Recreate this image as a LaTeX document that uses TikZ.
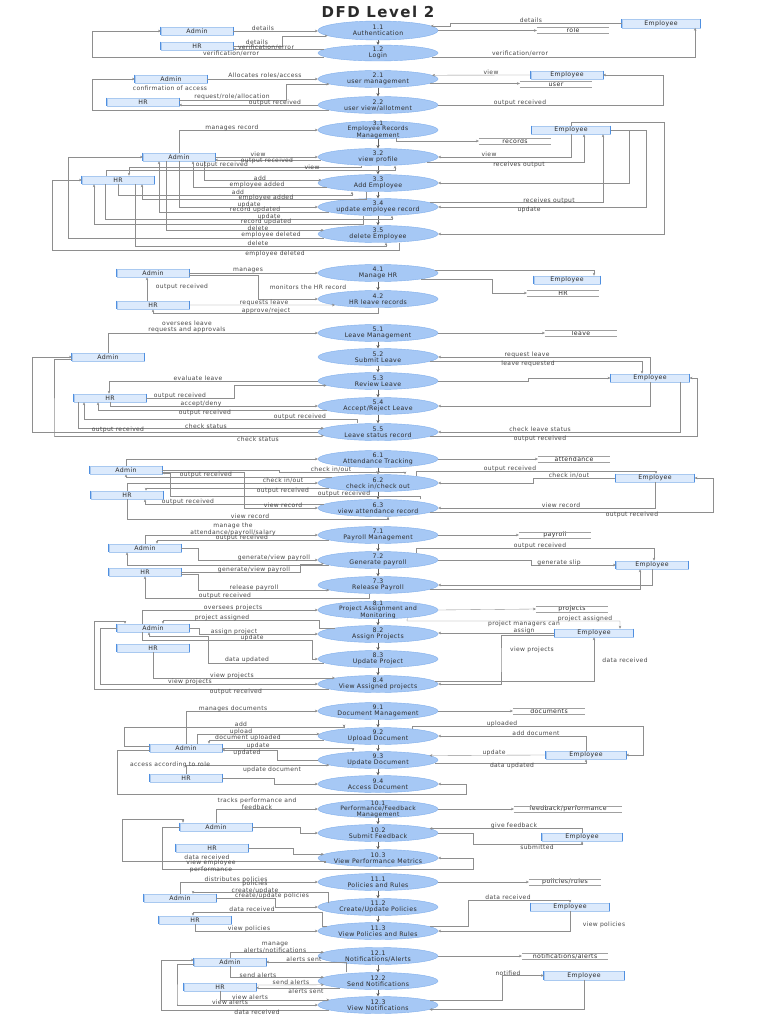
\documentclass[tikz,border=0pt]{standalone}
\usepackage{fontspec}
\setmainfont{DejaVu Sans}[LetterSpace=6.0]
\newfontfamily\titlefont{DejaVu Sans}[LetterSpace=10.0]
\usepackage{tikz}
\usetikzlibrary{arrows.meta,shapes.geometric}
\definecolor{procfill}{HTML}{A6C8F5}
\definecolor{procedge}{HTML}{7FAEEB}
\definecolor{entfill}{HTML}{DCEAFC}
\definecolor{entedge}{HTML}{A9C9F0}
\definecolor{entside}{HTML}{4F8FE0}
\definecolor{flowline}{HTML}{8E8E8E}
\definecolor{flowdark}{HTML}{5E5E5E}
\definecolor{storeline}{HTML}{A0A0A0}
\definecolor{figink}{HTML}{2B2B2B}
\definecolor{inkmuted}{HTML}{474747}
\newcommand{\procfont}{\fontsize{6.2}{6}\selectfont}
\newcommand{\procsmall}{\fontsize{6}{4.9}\selectfont}
\newcommand{\lblfont}{\fontsize{6}{5.4}\selectfont}

\begin{document}
\begin{tikzpicture}[
    x=1pt, y=-1pt,
    proc/.style={ellipse, fill=procfill, draw=procedge, line width=0.4pt, minimum width=120pt, minimum height=17pt, inner xsep=-6pt, inner ysep=-1pt, align=center, text=figink, font=\procfont},
    entbar/.style={draw=entside, line width=0.9pt},
    ent/.style={rectangle, fill=entfill, draw=entedge, line width=0.3pt, minimum width=72pt, minimum height=8.5pt, inner sep=0pt, text=figink, font=\procfont,
      append after command={(\tikzlastnode.north west) edge[entbar] (\tikzlastnode.south west) (\tikzlastnode.north east) edge[entbar] (\tikzlastnode.south east)}},
    storeedge/.style={draw=storeline, line width=0.5pt},
    store/.style={minimum width=72pt, minimum height=6pt, inner sep=0pt, text=figink, font=\procfont,
      append after command={(\tikzlastnode.north west) edge[storeedge] (\tikzlastnode.north east) (\tikzlastnode.south west) edge[storeedge] (\tikzlastnode.south east)}},
    flow/.style={-{Stealth[length=2.8pt,width=2.6pt]}, draw=flowline, line width=0.35pt},
    seq/.style={-{Stealth[length=3.2pt,width=3.2pt]}, draw=flowdark, line width=0.8pt},
    lbl/.style={text=inkmuted, font=\lblfont, inner sep=0.4pt, align=center},
  ]
  \fill[white] (0,0) rectangle (768,1024);
  \useasboundingbox (0,0) rectangle (768,1024);

  \node[text=figink, font=\titlefont\bfseries\fontsize{15}{15}\selectfont] (title) at (378,12) {DFD Level 2};

  \node[proc, minimum height=19pt] (auth) at (378,30.5) {1.1\\Authentication};
  \node[proc, minimum height=16pt] (login) at (378,53) {1.2\\Login};
  \node[ent] (admA) at (197,31) {Admin};
  \node[ent] (hrA) at (197,46) {HR};
  \node[ent, minimum width=78pt] (empA) at (661,23.5) {Employee};
  \node[store] (roleS) at (573,30.5) {role};
  \draw[seq] (auth) -- (login);
  \draw[flow] (admA) -- (admA -| auth.west);
  \draw[flow] (hrA.east) -- (282,46) |- (auth.186);
  \draw[flow] (login.176) -- (login.176 -| hrA.east);
  \draw[flow] (login.184) -| (92,31) -- (admA.west);
  \draw[flow] (empA.west) -- (450,23.5) |- (auth.5);
  \draw[flow] (auth.east) -- (roleS.west);
  \draw[flow] (login.356) -| ([xshift=-5pt]empA.south east);
  \node[lbl] (l1a) at (263,28) {details};
  \node[lbl] (l1b) at (257,42) {details};
  \node[lbl] (l1c) at (266,47.5) {verification/error};
  \node[lbl] (l1d) at (231,54) {verification/error};
  \node[lbl] (l1e) at (531,20.5) {details};
  \node[lbl] (l1f) at (520,54) {verification/error};

  \node[proc] (usrM) at (378,79) {2.1\\user management};
  \node[proc] (usrV) at (378,105) {2.2\\user view/allotment};
  \node[ent] (admB) at (171,79) {Admin};
  \node[ent] (hrB) at (143,102) {HR};
  \node[ent] (empB) at (567,75) {Employee};
  \node[store] (userS) at (556,84.5) {user};
  \draw[seq] (usrM) -- (usrV);
  \draw[flow] (admB) -- (admB -| usrM.west);
  \draw[flow] (usrV.186) -| (92,79) -- (admB.west);
  \draw[flow] ([yshift=2pt]hrB.east) -- (286,100) |- (usrM.186);
  \draw[flow] (usrV.west) -- (usrV.west -| hrB.east);
  \draw[flow] (empB.west) -- (usrM.4);
  \draw[flow] (usrM.355) -- (usrM.355 -| userS.west);
  \draw[flow] (usrV.east) -- (663,105) |- (empB.east);
  \node[lbl] (l2a) at (265,76) {Allocates roles/access};
  \node[lbl] (l2b) at (170,88) {confirmation of access};
  \node[lbl] (l2c) at (232,97) {request/role/allocation};
  \node[lbl] (l2d) at (275,102.5) {output received};
  \node[lbl] (l2e) at (491,72.5) {view};
  \node[lbl] (l2f) at (520,102.5) {output received};

  \node[proc, font=\procsmall, inner ysep=-2.5pt] (empR) at (378,130) {3.1\\Employee Records\\Management};
  \node[proc] (viewP) at (378,157) {3.2\\view profile};
  \node[proc] (addE) at (378,183) {3.3\\Add Employee};
  \node[proc] (updE) at (378,207) {3.4\\update employee record};
  \node[proc] (delE) at (378,234) {3.5\\delete Employee};
  \node[ent] (admC) at (179,157) {Admin};
  \node[ent] (hrC) at (118,180) {HR};
  \node[ent, minimum width=79pt] (empC) at (571,130) {Employee};
  \node[store] (recS) at (515,141) {records};
  \draw[seq] (empR) -- (viewP);
  \draw[seq] (viewP) -- (addE);
  \draw[seq] (addE) -- (updE);
  \draw[seq] (updE) -- (delE);
  \draw[flow] (admC.north) |- (empR.west);
  \draw[flow] (admC.east) -- (admC.east -| viewP.west);
  \draw[flow] (viewP.183) -- (viewP.183 -| admC.east);
  \draw[flow] (361,0 |- viewP.south) |- (129,167) -- ([xshift=11pt]hrC.north);
  \draw[flow] ([xshift=-12pt]hrC.north) |- (395,170) -- (395,0 |- viewP.south);
  \draw[flow] ([xshift=25pt]admC.south) |- (addE.177);
  \draw[flow] (addE.185) -| ([xshift=14pt]admC.south);
  \draw[flow] (hrC.south) |- (352,195) -- (352,0 |- addE.south);
  \draw[flow] (366,0 |- addE.south) |- (142,199) -- ([xshift=24pt]hrC.south);
  \draw[flow] (admC.south) |- (updE.west);
  \draw[flow] (updE.186) -| ([xshift=-20pt]admC.south);
  \draw[flow] ([xshift=-13pt]hrC.south) |- (392,219) -- (392,0 |- updE.south);
  \draw[flow] (363,0 |- updE.south) |- (94,224) -- ([xshift=-24pt]hrC.south);
  \draw[flow] ([xshift=-13pt]admC.south) |- (delE.176);
  \draw[flow] (delE.184) -| (68,157) -- (admC.west);
  \draw[flow] ([xshift=17pt]hrC.south) |- (386,246) -- (386,0 |- delE.south);
  \draw[flow] (399,0 |- delE.south) |- (52,250) |- (hrC.west);
  \draw[flow] (empR.335) |- (recS.west);
  \draw[flow] (empC.south) |- (viewP.east);
  \draw[flow] (viewP.354) -| ([xshift=13pt]empC.south);
  \draw[flow] (empC.east) -- (629,130) |- (addE.east);
  \draw[flow] (updE.5) -| ([xshift=32pt]empC.south);
  \draw[flow] (empC.east) -- (646,130) |- (updE.east);
  \draw[flow] (empC.north) |- (664,122) |- (delE.east);
  \node[lbl] (l3a) at (232,127.5) {manages record};
  \node[lbl] (l3b) at (258,154.5) {view};
  \node[lbl] (l3c) at (267,161) {output received};
  \node[lbl] (l3d) at (222,165) {output received};
  \node[lbl] (l3e) at (312,167.5) {view};
  \node[lbl] (l3f) at (260,178) {add};
  \node[lbl] (l3g) at (257,185) {employee added};
  \node[lbl] (l3h) at (238,192.5) {add};
  \node[lbl] (l3i) at (266,197.5) {employee added};
  \node[lbl] (l3j) at (249,204.5) {update};
  \node[lbl] (l3k) at (255,209.5) {record updated};
  \node[lbl] (l3l) at (269,216.5) {update};
  \node[lbl] (l3m) at (266,222) {record updated};
  \node[lbl] (l3n) at (258,228.5) {delete};
  \node[lbl] (l3o) at (271,235) {employee deleted};
  \node[lbl] (l3p) at (258,243) {delete};
  \node[lbl] (l3q) at (275,253.5) {employee deleted};
  \node[lbl] (l3r) at (489,154.5) {view};
  \node[lbl] (l3s) at (519,164.5) {receives output};
  \node[lbl] (l3t) at (549,200.5) {receives output};
  \node[lbl] (l3u) at (529,209.5) {update};

  \node[proc] (mgHR) at (378,273) {4.1\\Manage HR};
  \node[proc] (hrLv) at (378,299) {4.2\\HR leave records};
  \node[ent] (admD) at (153,273) {Admin};
  \node[ent] (hrD) at (153,305) {HR};
  \node[ent, minimum width=66pt] (empD) at (567,280) {Employee};
  \node[store] (hrS) at (563,293) {HR};
  \draw[seq] (mgHR) -- (hrLv);
  \draw[flow] (admD) -- (admD -| mgHR.west);
  \draw[flow] ([yshift=-2pt]admD.east) -- (258,275) |- (hrLv.west);
  \draw[flow] ([xshift=-6pt]hrD.north) -- ([xshift=-6pt]admD.south);
  \draw[flow] (hrD.east) -- (hrLv.188);
  \draw[flow] (hrLv.south) |- (153,313) -- (hrD.south);
  \draw[flow] (mgHR.3) -| ([xshift=27pt]empD.north);
  \draw[flow] (mgHR.352) -| (492,293) -- (hrS.west);
  \node[lbl] (l4a) at (248,270.5) {manages};
  \node[lbl] (l4b) at (182,287) {output received};
  \node[lbl] (l4c) at (308,287) {monitors the HR record};
  \node[lbl] (l4d) at (264,302.5) {requests leave};
  \node[lbl] (l4e) at (266,310.5) {approve/reject};

  \node[proc] (lvM) at (378,333) {5.1\\Leave Management};
  \node[proc] (subL) at (378,357) {5.2\\Submit Leave};
  \node[proc] (revL) at (378,381) {5.3\\Review Leave};
  \node[proc] (accL) at (378,406) {5.4\\Accept/Reject Leave};
  \node[proc] (stL) at (378,432) {5.5\\Leave status record};
  \node[ent] (admE) at (108,357) {Admin};
  \node[ent] (hrE) at (110,398) {HR};
  \node[ent, minimum width=79pt] (empE) at (650,378) {Employee};
  \node[store] (leaveS) at (581,333) {leave};
  \draw[seq] (lvM) -- (subL);
  \draw[seq] (subL) -- (revL);
  \draw[seq] (revL) -- (accL);
  \draw[seq] (accL) -- (stL);
  \draw[flow] (admE.north) |- (lvM.west);
  \draw[flow] (lvM.east) -- (leaveS.west);
  \draw[flow] (empE.north) |- (subL.east);
  \draw[flow] (subL.355) -| ([xshift=-8pt]empE.north);
  \draw[flow] (revL.west) -| ([xshift=-1pt]hrE.north);
  \draw[flow] (hrE.east) -- (234,398) |- (revL.185);
  \draw[flow] (revL.east) -- (528,381) |- (empE.west);
  \draw[flow] (hrE.south) |- (accL.west);
  \draw[flow] (accL.185) -| ([xshift=-12pt]hrE.south);
  \draw[flow] (357,0 |- stL.north) |- (84,419) -- ([xshift=-26pt]hrE.south);
  \draw[flow] ([xshift=-32pt]hrE.south) |- (stL.176);
  \draw[flow] (stL.west) -| (32,357) -- (admE.west);
  \draw[flow] ([yshift=-2pt]admE.west) -| (54,436) |- (stL.184);
  \draw[flow] ([xshift=30pt]empE.south) |- (stL.east);
  \draw[flow] (stL.355) -| (697,378) -- (empE.east);
  \draw[flow] (empE.south) |- (accL.east);
  \node[lbl] (l5a) at (187,327) {oversees leave\\requests and approvals};
  \node[lbl] (l5b) at (527,354.5) {request leave};
  \node[lbl] (l5c) at (528,363.5) {leave requested};
  \node[lbl] (l5d) at (198,378.5) {evaluate leave};
  \node[lbl] (l5e) at (180,395.5) {output received};
  \node[lbl] (l5f) at (201,403.5) {accept/deny};
  \node[lbl] (l5g) at (205,413) {output received};
  \node[lbl] (l5h) at (300,416.5) {output received};
  \node[lbl] (l5i) at (206,426) {check status};
  \node[lbl] (l5j) at (118,429.5) {output received};
  \node[lbl] (l5k) at (258,439.5) {check status};
  \node[lbl] (l5l) at (540,429.5) {check leave status};
  \node[lbl] (l5m) at (540,439) {output received};

  \node[proc] (attT) at (378,459) {6.1\\Attendance Tracking};
  \node[proc] (chkIO) at (378,483) {6.2\\check in/check out};
  \node[proc] (viewA) at (378,508) {6.3\\view attendance record};
  \node[ent] (admF) at (126,470) {Admin};
  \node[ent] (hrF) at (127,495) {HR};
  \node[ent, minimum width=79pt] (empF) at (655,478) {Employee};
  \node[store] (attS) at (574,459) {attendance};
  \draw[seq] (attT) -- (chkIO);
  \draw[seq] (chkIO) -- (viewA);
  \draw[flow] (admF.north) |- (attT.west);
  \draw[flow] (attT.east) -- (attS.west);
  \draw[flow] (admF.east) -- (279,470) |- (405,472) -- (405,0 |- chkIO.north);
  \draw[flow] (chkIO.173) -| (admF.south);
  \draw[flow] (hrF.north) |- (chkIO.west);
  \draw[flow] (chkIO.186) -| ([xshift=19pt]hrF.north);
  \draw[flow] (420,0 |- viewA.north) |- (170,496) |- ([yshift=-3pt]admF.east);
  \draw[flow] ([yshift=-2pt]admF.east) -- (244,472) |- (viewA.west);
  \draw[flow] (viewA.176) -| ([xshift=18pt]hrF.south);
  \draw[flow] (hrF.south) |- (388,519) -- (388,0 |- viewA.south);
  \draw[flow] (chkIO.10) |- (656,471) -- ([xshift=1pt]empF.north);
  \draw[flow] (empF.west) -- (533,478) |- (chkIO.east);
  \draw[flow] (viewA.355) -| (713,478) -- (empF.east);
  \draw[flow] (empF.south) |- (viewA.east);
  \node[lbl] (l6a) at (331,469.5) {check in/out};
  \node[lbl] (l6b) at (206,475) {output received};
  \node[lbl] (l6c) at (283,480.5) {check in/out};
  \node[lbl] (l6d) at (283,490.5) {output received};
  \node[lbl] (l6e) at (344,493.5) {output received};
  \node[lbl] (l6f) at (283,505.5) {view record};
  \node[lbl] (l6g) at (188,502) {output received};
  \node[lbl] (l6h) at (250,516.5) {view record};
  \node[lbl] (l6i) at (510,468.5) {output received};
  \node[lbl] (l6j) at (569,475.5) {check in/out};
  \node[lbl] (l6k) at (561,505.5) {view record};
  \node[lbl] (l6l) at (632,514.5) {output received};

  \node[proc] (payM) at (378,535) {7.1\\Payroll Management};
  \node[proc] (genP) at (378,560) {7.2\\Generate payroll};
  \node[proc] (relP) at (378,585) {7.3\\Release Payroll};
  \node[ent] (admG) at (145,548) {Admin};
  \node[ent] (hrG) at (145,572) {HR};
  \node[ent] (empG) at (652,565) {Employee};
  \node[store] (payS) at (555,535) {payroll};
  \draw[seq] (payM) -- (genP);
  \draw[seq] (genP) -- (relP);
  \draw[flow] (admG.north) |- (payM.west);
  \draw[flow] (payM.186) -| ([xshift=12pt]admG.north);
  \draw[flow] (admG.east) -- (198,548) |- (genP.west);
  \draw[flow] (genP.186) -| ([xshift=-18pt]admG.south);
  \draw[flow] (hrG.east) -- (300,572) |- (genP.184);
  \draw[flow] ([yshift=-2pt]hrG.east) -- (198,574) |- (relP.186);
  \draw[flow] (369,0 |- relP.south) |- (145,598) -- (hrG.south);
  \draw[flow] (payM.east) -- (payS.west);
  \draw[flow] (genP.east) -- (531,560) |- (empG.west);
  \draw[flow] (genP.10) |- (654,548) -- ([xshift=2pt]empG.north);
  \draw[flow] (empG.south) |- (relP.east);
  \draw[flow] (relP.355) -| ([xshift=-12pt]empG.south);
  \node[lbl] (l7a) at (233,529) {manage the\\attendance/payroll/salary};
  \node[lbl] (l7b) at (242,538) {output received};
  \node[lbl] (l7c) at (274,557.5) {generate/view payroll};
  \node[lbl] (l7d) at (254,569.5) {generate/view payroll};
  \node[lbl] (l7e) at (254,587.5) {release payroll};
  \node[lbl] (l7f) at (225,595.5) {output received};
  \node[lbl] (l7g) at (559,562.5) {generate slip};
  \node[lbl] (l7h) at (540,545.5) {output received};

  \node[proc, font=\procsmall, inner ysep=-2.5pt] (prjM) at (378,610) {8.1\\Project Assignment and\\Monitoring};
  \node[proc] (asgP) at (378,634) {8.2\\Assign Projects};
  \node[proc] (updP) at (378,659) {8.3\\Update Project};
  \node[proc] (viewPr) at (378,684) {8.4\\View Assigned projects};
  \node[ent] (admH) at (153,628) {Admin};
  \node[ent] (hrH) at (153,648) {HR};
  \node[ent, minimum width=79pt] (empH) at (594,633) {Employee};
  \node[store] (prjS) at (572,609) {projects};
  \draw[seq] (prjM) -- (asgP);
  \draw[seq] (asgP) -- (updP);
  \draw[seq] (updP) -- (viewPr);
  \draw[flow] ([xshift=-11pt]admH.north) |- (prjM.west);
  \draw[flow] (asgP.172) -| (319,620) -| ([xshift=10pt]admH.north);
  \draw[flow] (admH.east) -- (199,628) |- (asgP.west);
  \draw[flow] ([xshift=-11pt]admH.south) |- (312,640) |- (updP.west);
  \draw[flow] (updP.184) -| (208,636) -| ([xshift=-4pt]admH.south);
  \draw[flow] (hrH.south) |- (viewPr.172);
  \draw[flow] (admH.west) -| (100,684) -- (viewPr.west);
  \draw[flow] (viewPr.186) -| (94,621) -| ([xshift=-28pt]admH.north);
  \draw[flow] (prjM.east) -- (prjS.west);
  \draw[flow] (prjM.345) -- (407,621) -| ([xshift=26pt]empH.north);
  \draw[flow] (empH.west) -- (empH.west -| asgP.east);
  \draw[flow] ([yshift=-2pt]empH.west) -| (501,660) |- (viewPr.east);
  \draw[flow] (viewPr.3) -| (empH.south);
  \node[lbl] (l8a) at (233,607.5) {oversees projects};
  \node[lbl] (l8b) at (222,617.5) {project assigned};
  \node[lbl] (l8c) at (234,631.5) {assign project};
  \node[lbl] (l8d) at (252,637.5) {update};
  \node[lbl] (l8e) at (247,660) {data updated};
  \node[lbl] (l8f) at (232,675.5) {view projects};
  \node[lbl] (l8g) at (190,681.5) {view projects};
  \node[lbl] (l8h) at (236,691.5) {output received};
  \node[lbl] (l8i) at (585,618.5) {project assigned};
  \node[lbl] (l8j) at (524,627) {project managers can\\assign};
  \node[lbl] (l8k) at (532,650) {view projects};
  \node[lbl] (l8l) at (625,660) {data received};

  \node[proc] (docM) at (378,711) {9.1\\Document Management};
  \node[proc] (upD) at (378,736) {9.2\\Upload Document};
  \node[proc] (udD) at (378,760) {9.3\\Update Document};
  \node[proc] (acD) at (378,784) {9.4\\Access Document};
  \node[ent] (admI) at (186,748) {Admin};
  \node[ent] (hrI) at (186,778) {HR};
  \node[ent, minimum width=80pt] (empI) at (586,755) {Employee};
  \node[store] (docS) at (549,711) {documents};
  \draw[seq] (docM) -- (upD);
  \draw[seq] (upD) -- (udD);
  \draw[seq] (udD) -- (acD);
  \draw[flow] (admI.north) |- (docM.west);
  \draw[flow] ([yshift=2pt]admI.west) -- (124,746) |- (344,727) -- (344,0 |- upD.north);
  \draw[flow] ([xshift=11pt]admI.north) |- (upD.178);
  \draw[flow] (upD.184) -| ([xshift=23pt]admI.north);
  \draw[flow] (admI.east) -- (353,748) -- (353,0 |- udD.north);
  \draw[flow] (udD.west) -- (277,760) |- ([yshift=-2pt]admI.east);
  \draw[flow] ([yshift=-2pt]admI.west) -| (117,794) -- (466,794) |- (acD.east);
  \draw[flow] (hrI.north) |- (udD.186);
  \draw[flow] (hrI.east) -- (274,778) |- (acD.west);
  \draw[flow] (docM.east) -- (docS.west);
  \draw[flow] (upD.12) |- (643,726) |- (empI.east);
  \draw[flow] (empI.north) |- (upD.east);
  \draw[flow] (empI.west) -- (udD.5);
  \draw[flow] (udD.357) -| (empI.south);
  \node[lbl] (l9a) at (233,708.5) {manages documents};
  \node[lbl] (l9b) at (241,724.5) {add};
  \node[lbl] (l9c) at (241,732) {upload};
  \node[lbl] (l9d) at (248,737.5) {document uploaded};
  \node[lbl] (l9e) at (258,745.5) {update};
  \node[lbl] (l9f) at (247,753) {updated};
  \node[lbl] (l9g) at (170,764.5) {access according to role};
  \node[lbl] (l9h) at (272,770) {update document};
  \node[lbl] (l9i) at (502,723.5) {uploaded};
  \node[lbl] (l9j) at (536,733.5) {add document};
  \node[lbl] (l9k) at (494,752.5) {update};
  \node[lbl] (l9l) at (512,765.5) {data updated};

  \node[proc, font=\procsmall, inner ysep=-2.5pt] (perfM) at (378,809) {10.1\\Performance/Feedback\\Management};
  \node[proc] (subF) at (378,833) {10.2\\Submit Feedback};
  \node[proc] (perfV) at (378,858) {10.3\\View Performance Metrics};
  \node[ent] (admJ) at (216,827) {Admin};
  \node[ent] (hrJ) at (212,848) {HR};
  \node[ent, minimum width=80pt] (empJ) at (582,837) {Employee};
  \node[store, minimum width=108pt] (fbS) at (568,809) {feedback/performance};
  \draw[seq] (perfM) -- (subF);
  \draw[seq] (subF) -- (perfV);
  \draw[flow] (admJ.north) |- (perfM.west);
  \draw[flow] (admJ.east) -- (300,827) |- (subF.west);
  \draw[flow] (admJ.west) -| (162,869) -| (473,858) -- (perfV.east);
  \draw[flow] (perfV.184) -| (325,861) -- (122,861) |- (183,819) -- ([xshift=-33pt]admJ.north);
  \draw[flow] (hrJ.east) -- (293,848) |- (perfV.176);
  \draw[flow] (perfM.east) -- (fbS.west);
  \draw[flow] (empJ.north) |- (subF.5);
  \draw[flow] (subF.east) -- (473,833) |- (582,844) -- (empJ.south);
  \node[lbl] (l10a) at (257,804) {tracks performance and\\feedback};
  \node[lbl] (l10b) at (211,866) {view employee\\performance};
  \node[lbl] (l10c) at (207,857.5) {data received};
  \node[lbl] (l10d) at (514,826) {give feedback};
  \node[lbl] (l10e) at (537,847) {submitted};

  \node[proc] (polR) at (378,882) {11.1\\Policies and Rules};
  \node[proc] (cuP) at (378,907) {11.2\\Create/Update Policies};
  \node[proc] (viewR) at (378,931) {11.3\\View Policies and Rules};
  \node[ent] (admK) at (180,898) {Admin};
  \node[ent] (hrK) at (195,920) {HR};
  \node[ent, minimum width=79pt] (empK) at (570,907) {Employee};
  \node[store] (polS) at (565,882) {policies/rules};
  \draw[seq] (polR) -- (cuP);
  \draw[seq] (cuP) -- (viewR);
  \draw[flow] (admK.north) |- (polR.west);
  \draw[flow] (cuP.174) -| (328,892) -| ([xshift=13pt]admK.north);
  \draw[flow] (admK.east) -- (275,898) |- (cuP.west);
  \draw[flow] (viewR.175) -| (322,912) -| ([xshift=-2pt]hrK.north);
  \draw[flow] (hrK.south) |- (viewR.west);
  \draw[flow] (polR.east) -- (polS.west);
  \draw[flow] (viewR.5) -| (468,900) -| (empK.north);
  \draw[flow] (empK.south) |- (viewR.east);
  \node[lbl] (l11a) at (236,879.5) {distributes policies};
  \node[lbl] (l11b) at (255,887.5) {policies\\create/update};
  \node[lbl] (l11c) at (272,895.5) {create/update policies};
  \node[lbl] (l11d) at (252,909.5) {data received};
  \node[lbl] (l11e) at (249,928.5) {view policies};
  \node[lbl] (l11f) at (508,897.5) {data received};
  \node[lbl] (l11g) at (604,925) {view policies};

  \node[proc] (notA) at (378,956) {12.1\\Notifications/Alerts};
  \node[proc] (sndN) at (378,981) {12.2\\Send Notifications};
  \node[proc] (viewN) at (378,1005) {12.3\\View Notifications};
  \node[ent] (admL) at (230,962) {Admin};
  \node[ent] (hrL) at (220,987) {HR};
  \node[ent, minimum width=80pt] (empL) at (584,975.5) {Employee};
  \node[store, minimum width=86pt] (notS) at (565,956) {notifications/alerts};
  \draw[seq] (notA) -- (sndN);
  \draw[seq] (sndN) -- (viewN);
  \draw[flow] (admL.north) |- (notA.176);
  \draw[flow] (346,0 |- sndN.north) |- (admL.east);
  \draw[flow] (admL.south) |- (sndN.176);
  \draw[flow] ([yshift=2pt]hrL.east) -- (sndN.184);
  \draw[flow] (sndN.190) -- (sndN.190 -| hrL.east);
  \draw[flow] (hrL.south) |- (viewN.174);
  \draw[flow] ([yshift=-2pt]admL.west) -| (177,1004) |- (viewN.west);
  \draw[flow] (viewN.186) -| (161,960) -- ([yshift=2pt]admL.west);
  \draw[flow] (notA.east) -- (notS.west);
  \draw[flow] (viewN.5) -| (502,975.5) -- (empL.west);
  \draw[flow] (empL.south) |- (viewN.355);
  \node[lbl] (l12a) at (275,947.5) {manage\\alerts/notifications};
  \node[lbl] (l12b) at (304,959.5) {alerts sent};
  \node[lbl] (l12c) at (258,975) {send alerts};
  \node[lbl] (l12d) at (291,982) {send alerts};
  \node[lbl] (l12e) at (306,991) {alerts sent};
  \node[lbl] (l12f) at (250,997) {view alerts};
  \node[lbl] (l12g) at (230,1002.5) {view alerts};
  \node[lbl] (l12h) at (257,1012.5) {data received};
  \node[lbl] (l12i) at (508,973) {notified};
\end{tikzpicture}
\end{document}
